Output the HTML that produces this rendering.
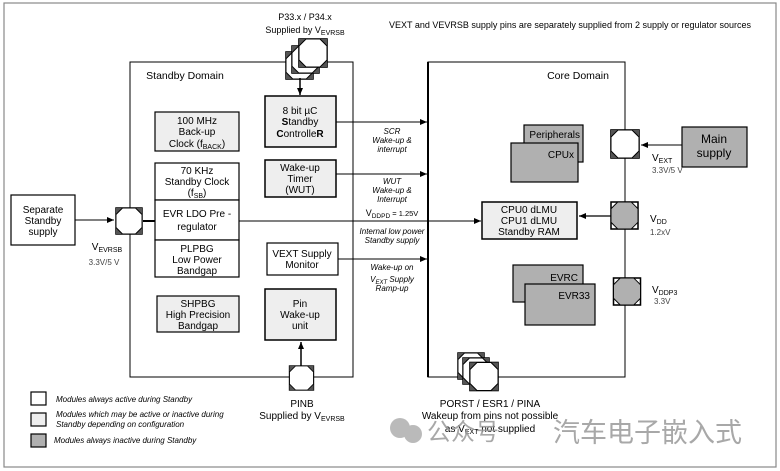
<!DOCTYPE html>
<html><head><meta charset="utf-8"><style>
html,body{margin:0;padding:0;background:#fff}
svg{display:block;font-family:"Liberation Sans","Noto Sans CJK SC",sans-serif}
</style></head><body>
<svg width="780" height="471" viewBox="0 0 780 471" xmlns="http://www.w3.org/2000/svg">
<defs>
<symbol id="padw" viewBox="0 0 28 28" overflow="visible">
<rect x="0" y="0" width="28" height="28" fill="#fff" stroke="#000" stroke-width="1.6"/>
<polygon points="0,0 7,0 0,7" fill="#555"/><polygon points="28,0 21,0 28,7" fill="#555"/>
<polygon points="0,28 7,28 0,21" fill="#555"/><polygon points="28,28 21,28 28,21" fill="#555"/>
<polygon points="7,0 21,0 28,7 28,21 21,28 7,28 0,21 0,7" fill="#fff" stroke="#000" stroke-width="1"/>
</symbol>
<symbol id="padg" viewBox="0 0 28 28" overflow="visible">
<rect x="0" y="0" width="28" height="28" fill="#fff" stroke="#000" stroke-width="1.6"/>
<polygon points="7,0 21,0 28,7 28,21 21,28 7,28 0,21 0,7" fill="#b0b0b0" stroke="#000" stroke-width="1"/>
</symbol>
<marker id="ar" markerWidth="8" markerHeight="8" refX="7" refY="4" orient="auto" markerUnits="userSpaceOnUse"><path d="M0,1 L7,4 L0,7z" fill="#000"/></marker>
</defs>
<rect x="4" y="3" width="772" height="464" fill="#fff" stroke="#888" stroke-width="1.2"/>
<g font-size="9" text-anchor="middle">
<text x="305" y="20">P33.x / P34.x</text>
<text x="305" y="33">Supplied by V<tspan font-size="7" dy="2">EVRSB</tspan></text>
<text x="570" y="28">VEXT and VEVRSB supply pins are separately supplied from 2 supply or regulator sources</text>
</g>
<rect x="130" y="62" width="223" height="315" fill="none" stroke="#000" stroke-width="1"/>
<rect x="428" y="62" width="197" height="315" fill="none" stroke="#000" stroke-width="1"/>
<line x1="428" y1="62" x2="428" y2="377" stroke="#000" stroke-width="2"/>
<text x="185" y="79" font-size="10.5" text-anchor="middle">Standby Domain</text>
<text x="578" y="79" font-size="10.5" text-anchor="middle">Core Domain</text>
<use href="#padw" x="286" y="52" width="27" height="27"/>
<use href="#padw" x="292" y="46" width="27" height="27"/>
<use href="#padw" x="299" y="39" width="28" height="28"/>
<line x1="300" y1="78" x2="300" y2="95" stroke="#000" stroke-width="1.5" marker-end="url(#ar)"/>
<rect x="11" y="195" width="64" height="50" fill="#fff" stroke="#000" stroke-width="1.2"/>
<g font-size="10" text-anchor="middle"><text x="43" y="213">Separate</text><text x="43" y="224">Standby</text><text x="43" y="235">supply</text></g>
<line x1="75" y1="220" x2="114" y2="220" stroke="#000" stroke-width="1" marker-end="url(#ar)"/>
<use href="#padw" x="115" y="208" width="28" height="26"/>
<line x1="143" y1="221" x2="155" y2="221" stroke="#000" stroke-width="2"/>
<text x="107" y="250" font-size="10" text-anchor="middle">V<tspan font-size="7" dy="2">EVRSB</tspan></text>
<text x="104" y="265" font-size="8" text-anchor="middle" fill="#444">3.3V/5 V</text>
<rect x="155" y="112" width="84" height="39" fill="#eee" stroke="#000" stroke-width="1.2"/>
<g font-size="10" text-anchor="middle"><text x="197" y="124">100 MHz</text><text x="197" y="135">Back-up</text><text x="197" y="147">Clock (f<tspan font-size="7" dy="2">BACK</tspan><tspan dy="-2">)</tspan></text></g>
<rect x="155" y="163" width="84" height="37" fill="#fff" stroke="#000" stroke-width="1.2"/>
<g font-size="10" text-anchor="middle"><text x="197" y="174">70 KHz</text><text x="197" y="185">Standby Clock</text><text x="197" y="196">(f<tspan font-size="7" dy="2">SB</tspan><tspan dy="-2">)</tspan></text></g>
<rect x="155" y="200" width="84" height="40" fill="#fff" stroke="#000" stroke-width="1.2"/>
<g font-size="10" text-anchor="middle"><text x="197" y="217">EVR LDO Pre -</text><text x="197" y="230">regulator</text></g>
<rect x="155" y="240" width="84" height="37" fill="#fff" stroke="#000" stroke-width="1.2"/>
<g font-size="10" text-anchor="middle"><text x="197" y="252">PLPBG</text><text x="197" y="263">Low Power</text><text x="197" y="274">Bandgap</text></g>
<rect x="157" y="296" width="82" height="36" fill="#eee" stroke="#000" stroke-width="1.2"/>
<g font-size="10" text-anchor="middle"><text x="198" y="307">SHPBG</text><text x="198" y="318">High Precision</text><text x="198" y="329">Bandgap</text></g>
<rect x="265" y="96" width="71" height="51" fill="#eee" stroke="#000" stroke-width="1.5"/>
<g font-size="10" text-anchor="middle"><text x="300" y="114">8 bit µC</text><text x="300" y="125"><tspan font-weight="bold">S</tspan>tandby</text><text x="300" y="137"><tspan font-weight="bold">C</tspan>ontrolle<tspan font-weight="bold">R</tspan></text></g>
<rect x="265" y="160" width="71" height="37" fill="#eee" stroke="#000" stroke-width="1.5"/>
<g font-size="10" text-anchor="middle"><text x="300" y="171">Wake-up</text><text x="300" y="182">Timer</text><text x="300" y="193">(WUT)</text></g>
<rect x="267" y="243" width="71" height="32" fill="#fff" stroke="#000" stroke-width="1.2"/>
<g font-size="10" text-anchor="middle"><text x="302" y="257">VEXT Supply</text><text x="302" y="268">Monitor</text></g>
<rect x="265" y="289" width="71" height="51" fill="#eee" stroke="#000" stroke-width="1.5"/>
<g font-size="10" text-anchor="middle"><text x="300" y="307">Pin</text><text x="300" y="318">Wake-up</text><text x="300" y="329">unit</text></g>
<line x1="301" y1="366" x2="301" y2="342" stroke="#000" stroke-width="1.5" marker-end="url(#ar)"/>
<use href="#padw" x="288" y="366" width="27" height="24"/>
<g font-size="10" text-anchor="middle"><text x="302" y="407">PINB</text><text x="302" y="419">Supplied by V<tspan font-size="7" dy="2">EVRSB</tspan></text></g>
<line x1="336" y1="122" x2="427" y2="122" stroke="#000" stroke-width="1" marker-end="url(#ar)"/>
<line x1="336" y1="174" x2="427" y2="174" stroke="#000" stroke-width="1" marker-end="url(#ar)"/>
<line x1="239" y1="221" x2="481" y2="221" stroke="#000" stroke-width="1" marker-end="url(#ar)"/>
<line x1="338" y1="259" x2="427" y2="259" stroke="#000" stroke-width="1" marker-end="url(#ar)"/>
<g font-size="8" font-style="italic" text-anchor="middle">
<text x="392" y="134">SCR</text><text x="392" y="143">Wake-up &amp;</text><text x="392" y="152">interrupt</text>
<text x="392" y="184">WUT</text><text x="392" y="193">Wake-up &amp;</text><text x="392" y="202">Interrupt</text>
<text x="392" y="234">Internal low power</text><text x="392" y="243">Standby supply</text>
<text x="392" y="270">Wake-up on</text><text x="392" y="282">V<tspan font-size="6" dy="2">EXT</tspan><tspan dy="-2"> Supply</tspan></text><text x="392" y="291">Ramp-up</text>
</g>
<text x="392" y="216" font-size="9" text-anchor="middle">V<tspan font-size="6.5" dy="2">DDPD</tspan><tspan dy="-2" font-size="7.5"> = 1.25V</tspan></text>
<rect x="524" y="125" width="59" height="37" fill="#b0b0b0" stroke="#000" stroke-width="1.2"/>
<text x="580" y="138" font-size="10" text-anchor="end">Peripherals</text>
<rect x="511" y="143" width="67" height="39" fill="#b0b0b0" stroke="#000" stroke-width="1.2"/>
<text x="574" y="158" font-size="10" text-anchor="end">CPUx</text>
<rect x="482" y="202" width="95" height="37" fill="#eee" stroke="#000" stroke-width="1.5"/>
<g font-size="10" text-anchor="middle"><text x="529" y="213">CPU0 dLMU</text><text x="529" y="224">CPU1 dLMU</text><text x="529" y="235">Standby RAM</text></g>
<rect x="513" y="265" width="70" height="37" fill="#b0b0b0" stroke="#000" stroke-width="1.2"/>
<text x="578" y="281" font-size="10" text-anchor="end">EVRC</text>
<rect x="525" y="284" width="70" height="41" fill="#b0b0b0" stroke="#000" stroke-width="1.2"/>
<text x="590" y="299" font-size="10" text-anchor="end">EVR33</text>
<line x1="611" y1="216" x2="579" y2="216" stroke="#000" stroke-width="1.2" marker-end="url(#ar)"/>
<use href="#padw" x="611" y="130" width="28" height="28"/>
<use href="#padg" x="611" y="202" width="27" height="27"/>
<use href="#padg" x="613" y="278" width="28" height="27"/>
<rect x="682" y="127" width="65" height="40" fill="#b0b0b0" stroke="#000" stroke-width="1.2"/>
<g font-size="12" text-anchor="middle"><text x="714" y="143">Main</text><text x="714" y="157">supply</text></g>
<line x1="682" y1="145" x2="641" y2="145" stroke="#000" stroke-width="1" marker-end="url(#ar)"/>
<text x="652" y="161" font-size="10">V<tspan font-size="7" dy="2">EXT</tspan></text>
<text x="652" y="173" font-size="8" fill="#444">3.3V/5 V</text>
<text x="650" y="222" font-size="10">V<tspan font-size="7" dy="2">DD</tspan></text>
<text x="650" y="235" font-size="8" fill="#444">1.2xV</text>
<text x="652" y="293" font-size="10">V<tspan font-size="7" dy="2">DDP3</tspan></text>
<text x="654" y="304" font-size="8" fill="#444">3.3V</text>
<use href="#padw" x="458" y="352" width="26" height="28"/>
<use href="#padw" x="463" y="357" width="26" height="28"/>
<use href="#padw" x="470" y="362" width="28" height="29"/>
<g font-size="10" text-anchor="middle"><text x="490" y="407">PORST / ESR1 / PINA</text><text x="490" y="419">Wakeup from pins not possible</text><text x="490" y="432">as V<tspan font-size="7" dy="2">EXT</tspan><tspan dy="-2"> not supplied</tspan></text></g>
<rect x="31" y="392" width="15" height="13" fill="#fff" stroke="#000" stroke-width="1.2"/>
<rect x="31" y="413" width="15" height="13" fill="#eee" stroke="#000" stroke-width="1.2"/>
<rect x="31" y="434" width="15" height="13" fill="#b0b0b0" stroke="#000" stroke-width="1.2"/>
<g font-size="8" font-style="italic"><text x="56" y="402">Modules always active during Standby</text>
<text x="56" y="417">Modules which may be active or inactive during</text><text x="56" y="427">Standby depending on configuration</text>
<text x="54" y="443">Modules always inactive during Standby</text></g>
<g fill="#aaa" opacity="0.8"><circle cx="400" cy="428" r="10"/><circle cx="413" cy="434" r="9"/></g>
<text x="427" y="440" font-size="24" fill="#999" opacity="0.85">公众号 ·</text>
<text x="553" y="442" font-size="27" fill="#999" opacity="0.85">汽车电子嵌入式</text>
</svg>
</body></html>
